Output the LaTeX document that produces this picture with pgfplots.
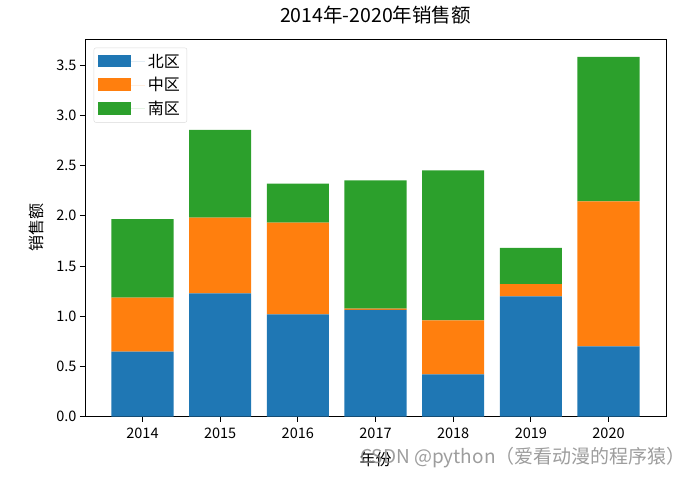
\documentclass[border=0pt]{standalone}
\usepackage{fontspec}
\setmainfont{Noto Sans CJK SC}
\usepackage{pgfplots}
\pgfplotsset{compat=1.18}
\definecolor{tabblue}{HTML}{1F77B4}
\definecolor{taborange}{HTML}{FF7F0E}
\definecolor{tabgreen}{HTML}{2CA02C}
\newcommand{\tickfont}{\fontsize{14.5}{16}\selectfont}
\newcommand{\labfont}{\fontsize{16}{18}\selectfont}
\begin{document}
\begin{tikzpicture}
\useasboundingbox (-85pt,-60.3pt) rectangle (605pt,416.7pt);
\begin{axis}[
  at={(0pt,0pt)}, anchor=south west,
  width=581pt, height=377.7pt, scale only axis,
  ybar stacked, bar width=0.8,
  xmin=-0.74, xmax=6.74, ymin=0, ymax=3758000,
  xtick={0,1,2,3,4,5,6},
  xticklabels={2014,2015,2016,2017,2018,2019,2020},
  ytick={0,500000,1000000,1500000,2000000,2500000,3000000,3500000},
  yticklabels={0.0,0.5,1.0,1.5,2.0,2.5,3.0,3.5},
  scaled y ticks=false,
  tick align=outside, major tick length=5pt,
  xtick pos=bottom, ytick pos=left,
  tick style={black, line width=0.8pt},
  axis line style={line width=0.8pt},
  ticklabel style={font=\tickfont},
  xticklabel style={yshift=-3pt},
  /pgf/number format/assume math mode=true,
  xlabel={年份}, ylabel={销售额},
  label style={font=\labfont},
  xlabel style={yshift=-6pt},
  ylabel style={yshift=6pt},
  title={2014年-2020年销售额},
  title style={font=\fontsize{19.5}{21}\selectfont, at={(0.5,1)}, anchor=south, yshift=5pt},
  legend image code/.code={\fill[#1, sharp corners] (0pt,-6pt) rectangle (33pt,6.7pt); \path (0pt,0pt) -- (47pt,0pt);},
  legend style={at={(0.015,0.977)}, anchor=north west, draw=black!15, rounded corners=2pt,
    font=\labfont, row sep=5pt, inner xsep=4pt, inner ysep=4pt,
    nodes={inner xsep=3pt}},
  legend cell align=left,
]
\addplot[fill=tabblue, draw=none] coordinates {(0,647000) (1,1227000) (2,1017000) (3,1062000) (4,420000) (5,1198000) (6,700000)};
\addplot[fill=taborange, draw=none] coordinates {(0,537000) (1,753000) (2,913000) (3,13000) (4,539000) (5,122000) (6,1443000)};
\addplot[fill=tabgreen, draw=none] coordinates {(0,783000) (1,873000) (2,390000) (3,1277000) (4,1491000) (5,359000) (6,1436000)};
\legend{北区,中区,南区}
\node[anchor=south west, font=\tickfont, inner sep=0pt] at (rel axis cs:0,1) [yshift=4pt] {1e6};
\end{axis}
\node[anchor=west, font=\fontsize{19}{21}\selectfont, text=black!45, opacity=0.85, inner sep=0pt] at (275pt,-41.3pt) {CSDN @python（爱看动漫的程序猿）};
\end{tikzpicture}
\end{document}
